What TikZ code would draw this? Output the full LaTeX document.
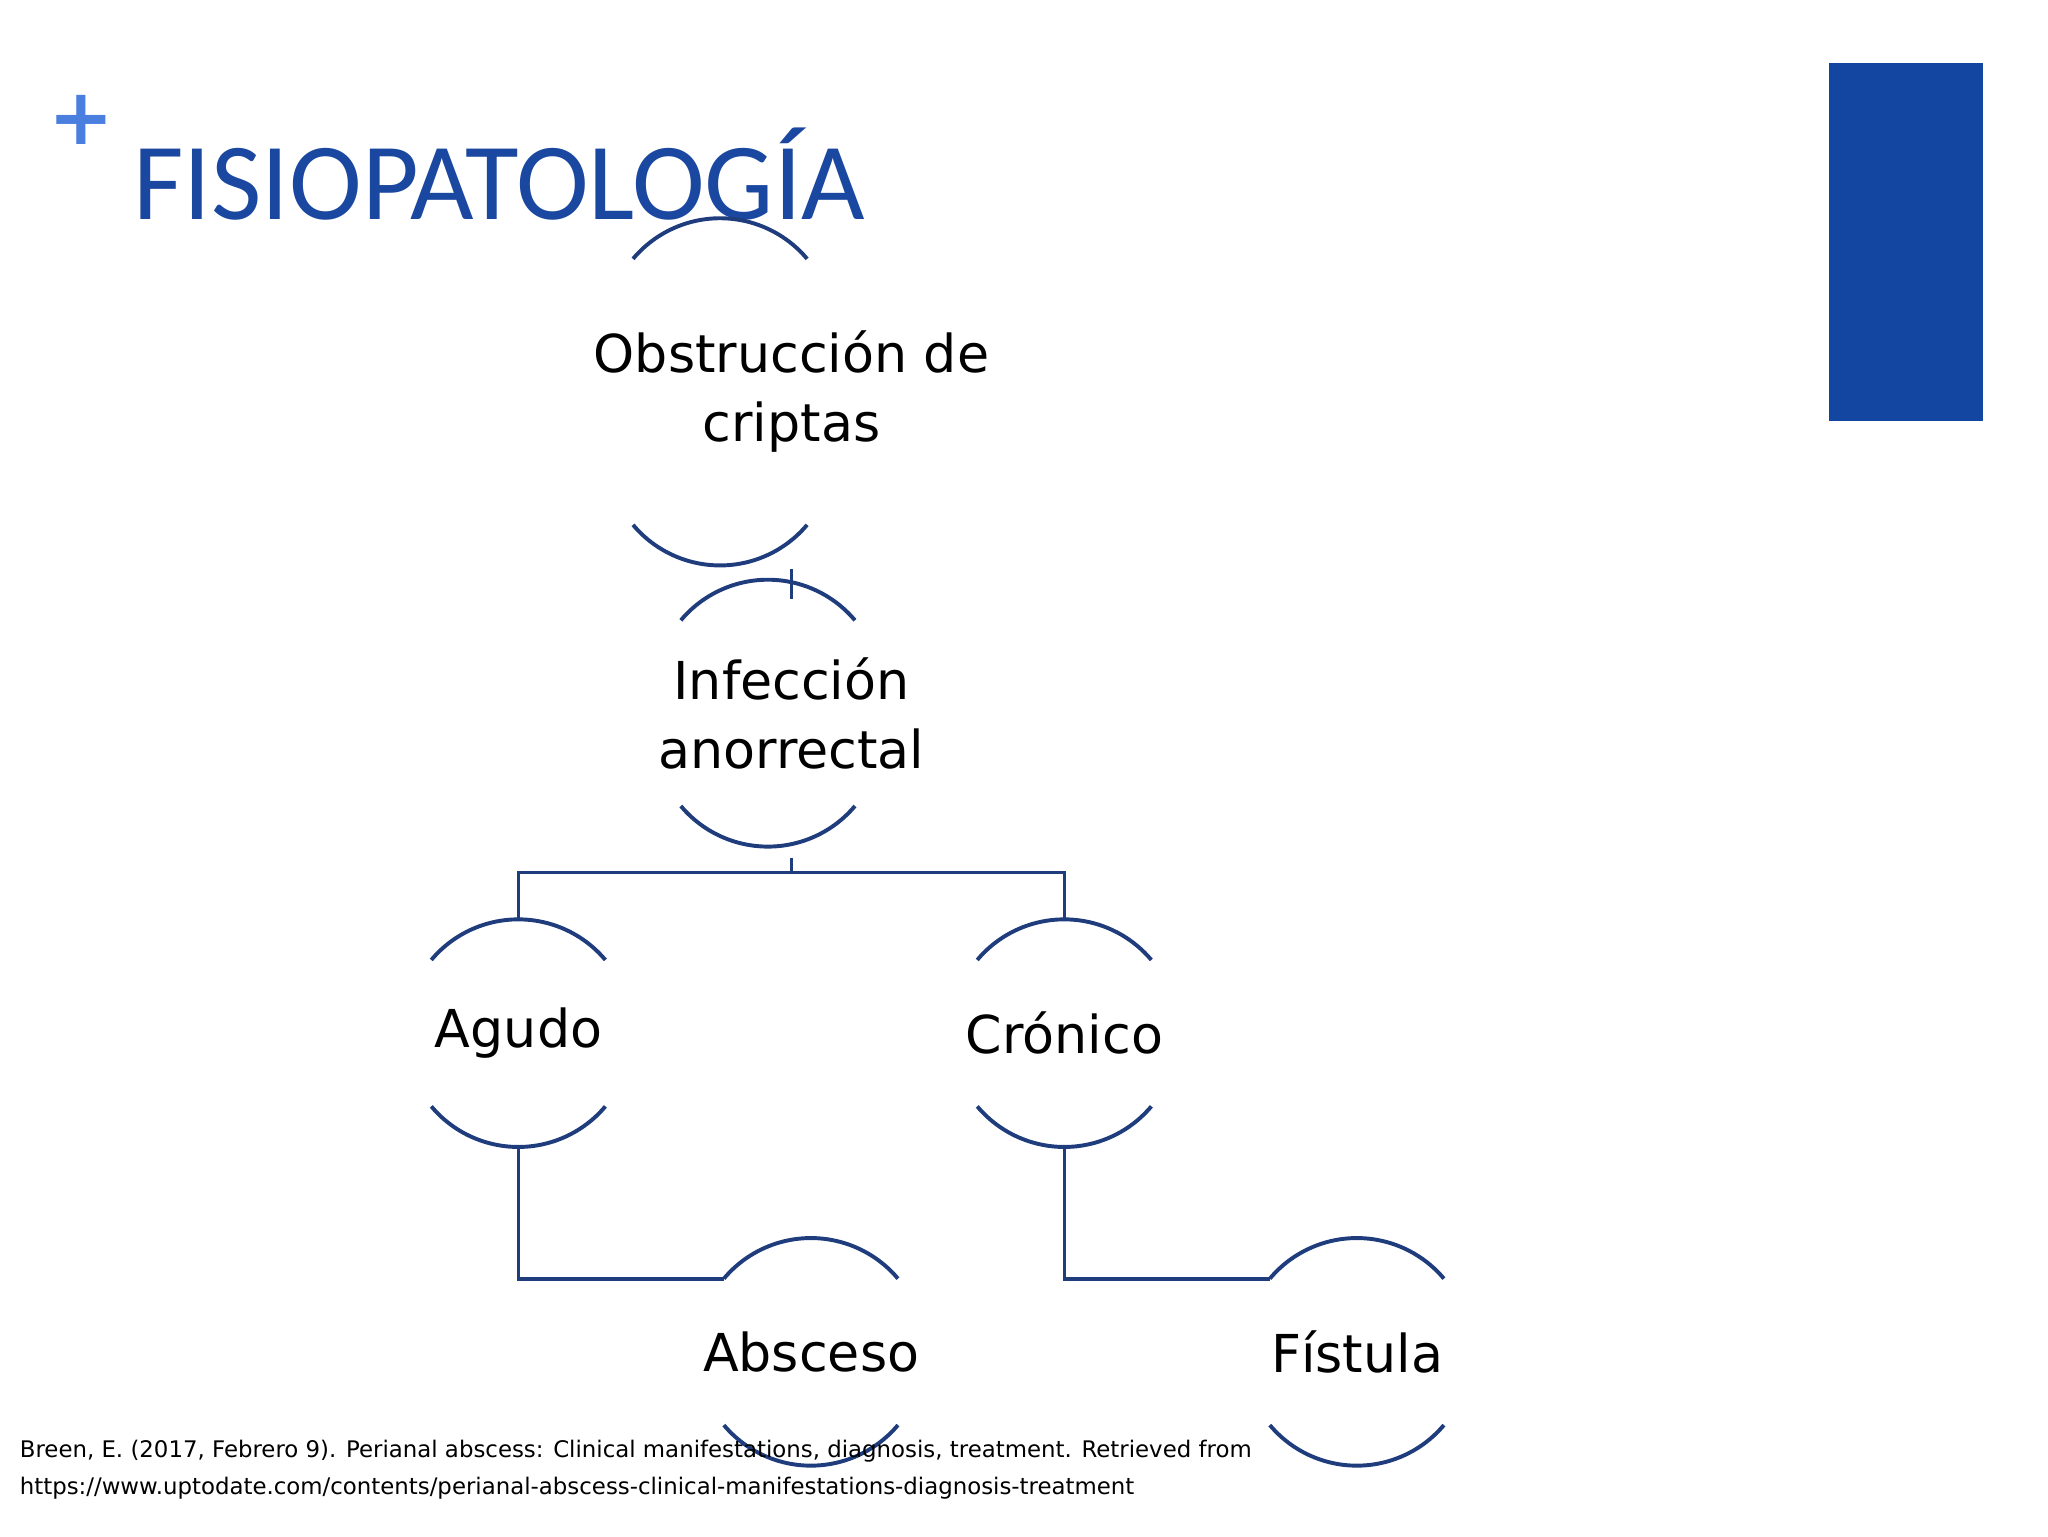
\documentclass[tikz,border=0pt]{standalone}
\usepackage{fontspec}
\setmainfont{DejaVu Sans}
\newfontfamily\titlefont{Carlito}
\definecolor{ln}{HTML}{1F3C7C}
\definecolor{tb}{HTML}{1A47A0}
\definecolor{bar}{HTML}{1346A0}
\definecolor{pl}{HTML}{4A7FE0}
\begin{document}
\begin{tikzpicture}[x=1pt,y=-1pt,
  nd/.style={circle,minimum size=174pt,inner sep=0pt,align=center,font=\fontsize{40}{53}\selectfont},
  cn/.style={draw=ln,line width=3pt}]
\useasboundingbox (0,0) rectangle (1568,1176);
\fill[bar] (1400,48) rectangle (1518,322);
\node[pl,font=\fontsize{60}{60}\selectfont\bfseries] (plus) at (62,92) {+};
\node[tb,anchor=base west,inner sep=0pt,font=\titlefont\fontsize{84}{84}\selectfont] (title) at (102,168) {FISIOPATOLOGÍA};
\node[nd] (ob) at (606,300) {Obstrucción de\\criptas};
\node[nd] (in) at (606,546) {Infección\\anorrectal};
\node[nd] (ag) at (397,791) {Agudo};
\node[nd] (cr) at (815,791) {Crónico};
\node[nd] (ab) at (621,1035) {Absceso};
\node[nd] (fi) at (1039,1035) {Fístula};
\foreach \n in {ob,in,ag,cr,ab,fi}{
  \draw[cn] (\n.140) arc (140:40:87pt);
  \draw[cn] (\n.220) arc (220:320:87pt);
}
\coordinate (j) at (606,668);
\draw[cn] (ob.south) -- (in.north);
\draw[cn] (in.south) -- (j);
\draw[cn] (ag.north) |- (j) -| (cr.north);
\draw[cn] (ag.south) |- (ab.140);
\draw[cn] (cr.south) |- (fi.140);
\node[anchor=base west,inner sep=0pt,align=left,font=\fontsize{17.5}{28}\selectfont] (ref) at (15,1144) {Breen, E. (2017, Febrero 9). Perianal abscess: Clinical manifestations, diagnosis, treatment. Retrieved from\\https://www.uptodate.com/contents/perianal-abscess-clinical-manifestations-diagnosis-treatment};
\end{tikzpicture}
\end{document}
